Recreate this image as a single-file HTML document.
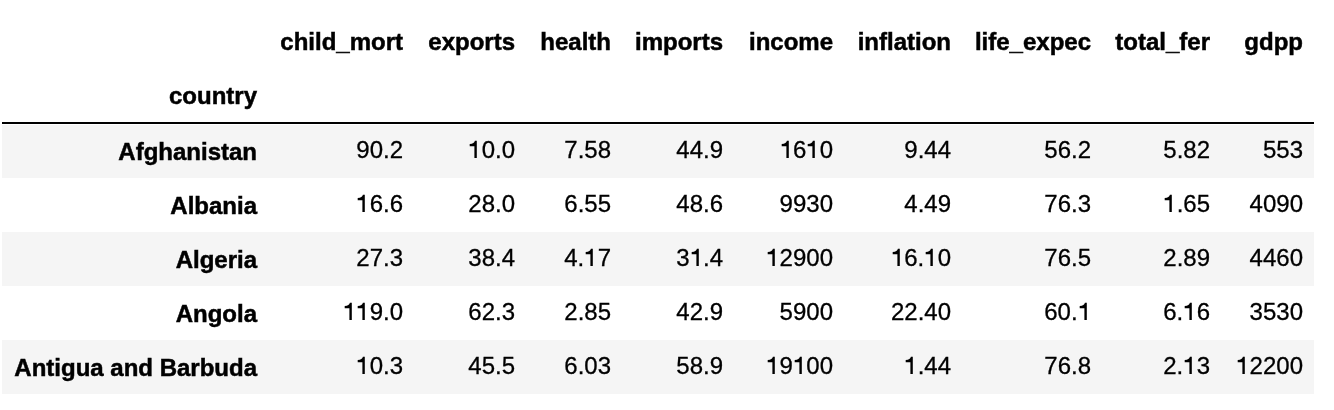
<!DOCTYPE html>
<html><head><meta charset="utf-8"><style>
html,body{margin:0;padding:0;background:#fff;width:1334px;height:410px;overflow:hidden;position:relative}
.c{position:absolute;will-change:transform;text-align:right;white-space:nowrap;color:#000;font-family:"Liberation Sans",sans-serif;font-size:24px}
.b{font-weight:bold;-webkit-text-stroke:0.5px #000}
.r{font-weight:normal;-webkit-text-stroke:0.3px #000}
.one{position:relative;color:transparent;-webkit-text-stroke:0}
.one svg{position:absolute;left:0;top:0;width:13.36px;height:27px;overflow:visible}
.bg{position:absolute;left:2px;width:1312px;background:#f5f5f5}
.bd{position:absolute;left:2px;width:1312px;height:2px;background:#000}
</style></head><body>
<div class="bd" style="top:122px"></div>
<div class="bg" style="top:125px;height:53px"></div>
<div class="bg" style="top:232px;height:54px"></div>
<div class="bg" style="top:340px;height:54px"></div>
<div class="c b" style="left:2.5px;top:15px;width:400px;height:54px;line-height:54px">child_mort</div>
<div class="c b" style="left:114.5px;top:15px;width:400px;height:54px;line-height:54px">exports</div>
<div class="c b" style="left:210.5px;top:15px;width:400px;height:54px;line-height:54px">health</div>
<div class="c b" style="left:322.5px;top:15px;width:400px;height:54px;line-height:54px">imports</div>
<div class="c b" style="left:432.5px;top:15px;width:400px;height:54px;line-height:54px">income</div>
<div class="c b" style="left:551px;top:15px;width:400px;height:54px;line-height:54px">inflation</div>
<div class="c b" style="left:690.5px;top:15px;width:400px;height:54px;line-height:54px">life_expec</div>
<div class="c b" style="left:810px;top:15px;width:400px;height:54px;line-height:54px">total_fer</div>
<div class="c b" style="left:902.5px;top:15px;width:400px;height:54px;line-height:54px">gdpp</div>
<div class="c b" style="left:-143.5px;top:69px;width:400px;height:54px;line-height:54px">country</div>
<div class="c b" style="left:-143.5px;top:125px;width:400px;height:54px;line-height:54px">Afghanistan</div>
<div class="c r" style="left:2.5px;top:123px;width:400px;height:54px;line-height:54px">90.2</div>
<div class="c r" style="left:114.5px;top:123px;width:400px;height:54px;line-height:54px"><span class="one">1<svg viewBox="0 0 13.36 27"><path d="M6.4 22L8.8 22L8.8 4.7L6.9 4.7Q6.4 7.6 1.7 7.9L1.7 10.2L6.4 10.2Z"/></svg></span>0.0</div>
<div class="c r" style="left:210.5px;top:123px;width:400px;height:54px;line-height:54px">7.58</div>
<div class="c r" style="left:322.5px;top:123px;width:400px;height:54px;line-height:54px">44.9</div>
<div class="c r" style="left:432.5px;top:123px;width:400px;height:54px;line-height:54px"><span class="one">1<svg viewBox="0 0 13.36 27"><path d="M6.4 22L8.8 22L8.8 4.7L6.9 4.7Q6.4 7.6 1.7 7.9L1.7 10.2L6.4 10.2Z"/></svg></span>6<span class="one">1<svg viewBox="0 0 13.36 27"><path d="M6.4 22L8.8 22L8.8 4.7L6.9 4.7Q6.4 7.6 1.7 7.9L1.7 10.2L6.4 10.2Z"/></svg></span>0</div>
<div class="c r" style="left:551px;top:123px;width:400px;height:54px;line-height:54px">9.44</div>
<div class="c r" style="left:690.5px;top:123px;width:400px;height:54px;line-height:54px">56.2</div>
<div class="c r" style="left:810px;top:123px;width:400px;height:54px;line-height:54px">5.82</div>
<div class="c r" style="left:902.5px;top:123px;width:400px;height:54px;line-height:54px">553</div>
<div class="c b" style="left:-143.5px;top:179px;width:400px;height:54px;line-height:54px">Albania</div>
<div class="c r" style="left:2.5px;top:177px;width:400px;height:54px;line-height:54px"><span class="one">1<svg viewBox="0 0 13.36 27"><path d="M6.4 22L8.8 22L8.8 4.7L6.9 4.7Q6.4 7.6 1.7 7.9L1.7 10.2L6.4 10.2Z"/></svg></span>6.6</div>
<div class="c r" style="left:114.5px;top:177px;width:400px;height:54px;line-height:54px">28.0</div>
<div class="c r" style="left:210.5px;top:177px;width:400px;height:54px;line-height:54px">6.55</div>
<div class="c r" style="left:322.5px;top:177px;width:400px;height:54px;line-height:54px">48.6</div>
<div class="c r" style="left:432.5px;top:177px;width:400px;height:54px;line-height:54px">9930</div>
<div class="c r" style="left:551px;top:177px;width:400px;height:54px;line-height:54px">4.49</div>
<div class="c r" style="left:690.5px;top:177px;width:400px;height:54px;line-height:54px">76.3</div>
<div class="c r" style="left:810px;top:177px;width:400px;height:54px;line-height:54px"><span class="one">1<svg viewBox="0 0 13.36 27"><path d="M6.4 22L8.8 22L8.8 4.7L6.9 4.7Q6.4 7.6 1.7 7.9L1.7 10.2L6.4 10.2Z"/></svg></span>.65</div>
<div class="c r" style="left:902.5px;top:177px;width:400px;height:54px;line-height:54px">4090</div>
<div class="c b" style="left:-143.5px;top:233px;width:400px;height:54px;line-height:54px">Algeria</div>
<div class="c r" style="left:2.5px;top:231px;width:400px;height:54px;line-height:54px">27.3</div>
<div class="c r" style="left:114.5px;top:231px;width:400px;height:54px;line-height:54px">38.4</div>
<div class="c r" style="left:210.5px;top:231px;width:400px;height:54px;line-height:54px">4.<span class="one">1<svg viewBox="0 0 13.36 27"><path d="M6.4 22L8.8 22L8.8 4.7L6.9 4.7Q6.4 7.6 1.7 7.9L1.7 10.2L6.4 10.2Z"/></svg></span>7</div>
<div class="c r" style="left:322.5px;top:231px;width:400px;height:54px;line-height:54px">3<span class="one">1<svg viewBox="0 0 13.36 27"><path d="M6.4 22L8.8 22L8.8 4.7L6.9 4.7Q6.4 7.6 1.7 7.9L1.7 10.2L6.4 10.2Z"/></svg></span>.4</div>
<div class="c r" style="left:432.5px;top:231px;width:400px;height:54px;line-height:54px"><span class="one">1<svg viewBox="0 0 13.36 27"><path d="M6.4 22L8.8 22L8.8 4.7L6.9 4.7Q6.4 7.6 1.7 7.9L1.7 10.2L6.4 10.2Z"/></svg></span>2900</div>
<div class="c r" style="left:551px;top:231px;width:400px;height:54px;line-height:54px"><span class="one">1<svg viewBox="0 0 13.36 27"><path d="M6.4 22L8.8 22L8.8 4.7L6.9 4.7Q6.4 7.6 1.7 7.9L1.7 10.2L6.4 10.2Z"/></svg></span>6.<span class="one">1<svg viewBox="0 0 13.36 27"><path d="M6.4 22L8.8 22L8.8 4.7L6.9 4.7Q6.4 7.6 1.7 7.9L1.7 10.2L6.4 10.2Z"/></svg></span>0</div>
<div class="c r" style="left:690.5px;top:231px;width:400px;height:54px;line-height:54px">76.5</div>
<div class="c r" style="left:810px;top:231px;width:400px;height:54px;line-height:54px">2.89</div>
<div class="c r" style="left:902.5px;top:231px;width:400px;height:54px;line-height:54px">4460</div>
<div class="c b" style="left:-143.5px;top:287px;width:400px;height:54px;line-height:54px">Angola</div>
<div class="c r" style="left:2.5px;top:285px;width:400px;height:54px;line-height:54px"><span class="one">1<svg viewBox="0 0 13.36 27"><path d="M6.4 22L8.8 22L8.8 4.7L6.9 4.7Q6.4 7.6 1.7 7.9L1.7 10.2L6.4 10.2Z"/></svg></span><span class="one">1<svg viewBox="0 0 13.36 27"><path d="M6.4 22L8.8 22L8.8 4.7L6.9 4.7Q6.4 7.6 1.7 7.9L1.7 10.2L6.4 10.2Z"/></svg></span>9.0</div>
<div class="c r" style="left:114.5px;top:285px;width:400px;height:54px;line-height:54px">62.3</div>
<div class="c r" style="left:210.5px;top:285px;width:400px;height:54px;line-height:54px">2.85</div>
<div class="c r" style="left:322.5px;top:285px;width:400px;height:54px;line-height:54px">42.9</div>
<div class="c r" style="left:432.5px;top:285px;width:400px;height:54px;line-height:54px">5900</div>
<div class="c r" style="left:551px;top:285px;width:400px;height:54px;line-height:54px">22.40</div>
<div class="c r" style="left:690.5px;top:285px;width:400px;height:54px;line-height:54px">60.<span class="one">1<svg viewBox="0 0 13.36 27"><path d="M6.4 22L8.8 22L8.8 4.7L6.9 4.7Q6.4 7.6 1.7 7.9L1.7 10.2L6.4 10.2Z"/></svg></span></div>
<div class="c r" style="left:810px;top:285px;width:400px;height:54px;line-height:54px">6.<span class="one">1<svg viewBox="0 0 13.36 27"><path d="M6.4 22L8.8 22L8.8 4.7L6.9 4.7Q6.4 7.6 1.7 7.9L1.7 10.2L6.4 10.2Z"/></svg></span>6</div>
<div class="c r" style="left:902.5px;top:285px;width:400px;height:54px;line-height:54px">3530</div>
<div class="c b" style="left:-143.5px;top:341px;width:400px;height:54px;line-height:54px">Antigua and Barbuda</div>
<div class="c r" style="left:2.5px;top:339px;width:400px;height:54px;line-height:54px"><span class="one">1<svg viewBox="0 0 13.36 27"><path d="M6.4 22L8.8 22L8.8 4.7L6.9 4.7Q6.4 7.6 1.7 7.9L1.7 10.2L6.4 10.2Z"/></svg></span>0.3</div>
<div class="c r" style="left:114.5px;top:339px;width:400px;height:54px;line-height:54px">45.5</div>
<div class="c r" style="left:210.5px;top:339px;width:400px;height:54px;line-height:54px">6.03</div>
<div class="c r" style="left:322.5px;top:339px;width:400px;height:54px;line-height:54px">58.9</div>
<div class="c r" style="left:432.5px;top:339px;width:400px;height:54px;line-height:54px"><span class="one">1<svg viewBox="0 0 13.36 27"><path d="M6.4 22L8.8 22L8.8 4.7L6.9 4.7Q6.4 7.6 1.7 7.9L1.7 10.2L6.4 10.2Z"/></svg></span>9<span class="one">1<svg viewBox="0 0 13.36 27"><path d="M6.4 22L8.8 22L8.8 4.7L6.9 4.7Q6.4 7.6 1.7 7.9L1.7 10.2L6.4 10.2Z"/></svg></span>00</div>
<div class="c r" style="left:551px;top:339px;width:400px;height:54px;line-height:54px"><span class="one">1<svg viewBox="0 0 13.36 27"><path d="M6.4 22L8.8 22L8.8 4.7L6.9 4.7Q6.4 7.6 1.7 7.9L1.7 10.2L6.4 10.2Z"/></svg></span>.44</div>
<div class="c r" style="left:690.5px;top:339px;width:400px;height:54px;line-height:54px">76.8</div>
<div class="c r" style="left:810px;top:339px;width:400px;height:54px;line-height:54px">2.<span class="one">1<svg viewBox="0 0 13.36 27"><path d="M6.4 22L8.8 22L8.8 4.7L6.9 4.7Q6.4 7.6 1.7 7.9L1.7 10.2L6.4 10.2Z"/></svg></span>3</div>
<div class="c r" style="left:902.5px;top:339px;width:400px;height:54px;line-height:54px"><span class="one">1<svg viewBox="0 0 13.36 27"><path d="M6.4 22L8.8 22L8.8 4.7L6.9 4.7Q6.4 7.6 1.7 7.9L1.7 10.2L6.4 10.2Z"/></svg></span>2200</div>
</body></html>
